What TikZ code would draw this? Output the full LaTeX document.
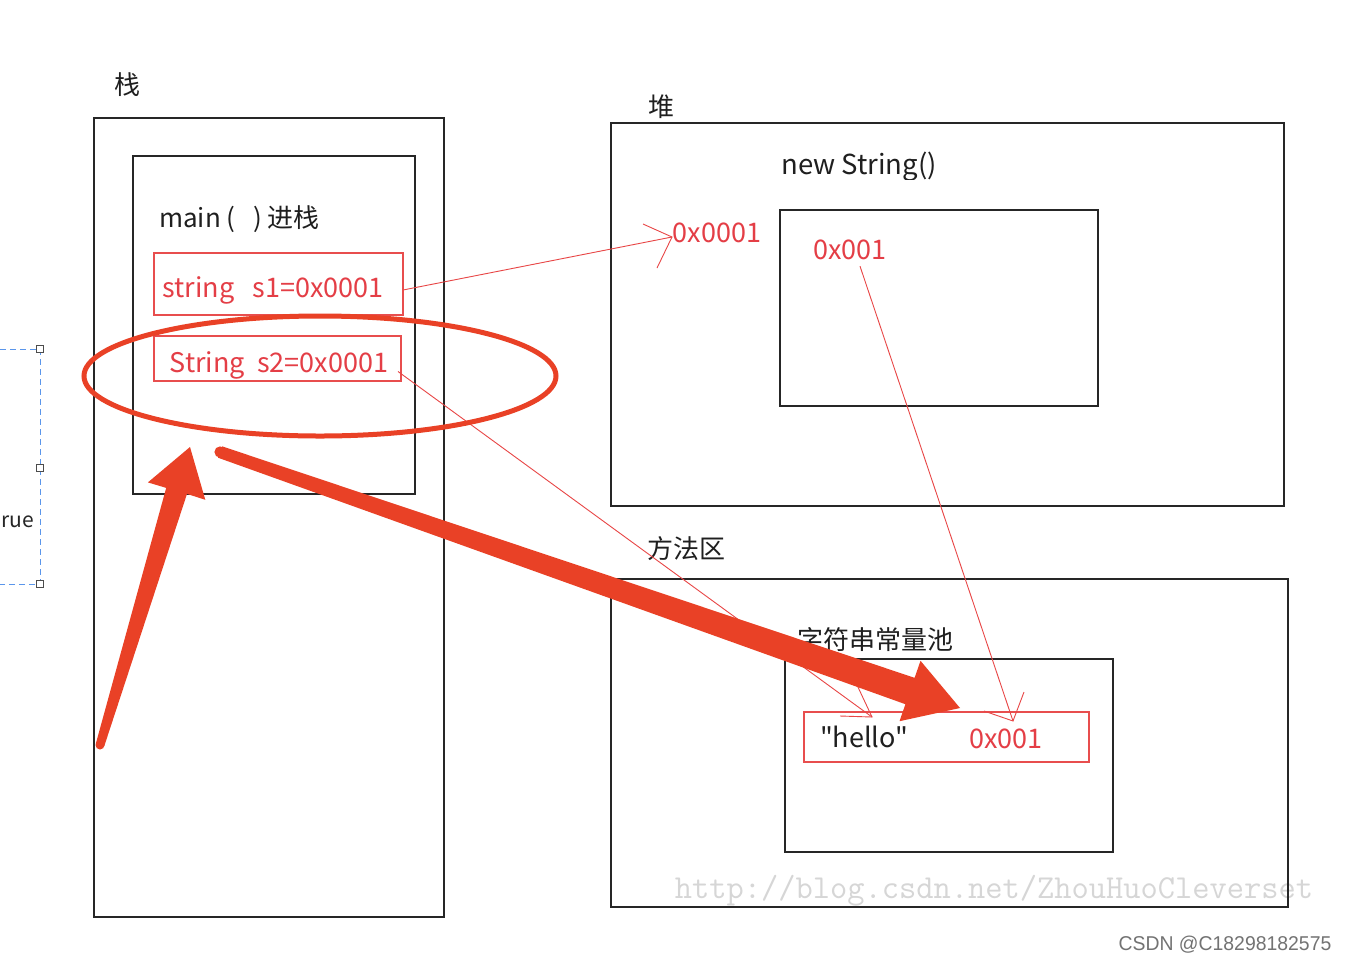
\documentclass[tikz,border=0pt]{standalone}
\usepackage{fontspec}
\setmainfont{Noto Sans CJK SC}
\newfontfamily\nomap{Noto Sans CJK SC}
\newfontfamily\csdnfont{Liberation Sans}
\usetikzlibrary{calc}
\definecolor{boxred}{RGB}{232,78,78}
\definecolor{txtred}{RGB}{228,62,70}
\definecolor{linered}{RGB}{232,70,70}
\definecolor{markred}{RGB}{233,65,38}
\definecolor{selblue}{RGB}{90,150,235}
\begin{document}
\begin{tikzpicture}[x=1pt,y=-1pt,
  blk/.style={draw=black!85, line width=1.4pt, inner sep=0pt, outer sep=0pt},
  rbox/.style={draw=boxred, line width=1.2pt, inner sep=0pt, outer sep=0pt},
  lbl/.style={font=\fontsize{26}{30}\selectfont, text=black!88, inner sep=0pt},
  rlbl/.style={font=\fontsize{27}{32}\selectfont, text=txtred, inner sep=0pt},
  thinred/.style={draw=linered, line width=0.9pt},
  bigarrow/.style={fill=markred, draw=none},
  handle/.style={draw=black!70, fill=white, line width=0.8pt, minimum size=7pt, inner sep=0pt}]
\useasboundingbox (0,0) rectangle (1348,962);
\fill[white] (0,0) rectangle (1348,962);

% watermark
\node[font=\ttfamily\fontsize{33.5}{38}\selectfont, text=black!16, inner sep=0pt] (wm) at (994,891) {http://blog.csdn.net/ZhouHuoCleverset};

% stack
\node[blk, minimum width=350pt, minimum height=799pt] (stack) at (269,517.5) {};
\node[blk, minimum width=282pt, minimum height=338pt] (frame) at (274,325) {};
\node[lbl] (stacklbl) at (127,85) {栈};
\node[lbl, anchor=west] (mainlbl) at (159,219) {main (\ \ \ ) 进栈};
\node[rbox, minimum width=249pt, minimum height=62pt] (s1) at (278.5,284) {};
\node[rlbl] (s1t) at (273,290) {string\ \ \ s1=0x0001};
\node[rbox, minimum width=247pt, minimum height=45pt] (s2) at (277.5,358.5) {};
\begin{scope}
\clip (150,330) rectangle (405,381);
\node[rlbl] (s2t) at (279,365) {String\ \ s2=0x0001};
\end{scope}

% heap
\node[blk, minimum width=673pt, minimum height=383pt] (heap) at (947.5,314.5) {};
\node[lbl] (heaplbl) at (661,107) {堆};
\begin{scope}
\clip (770,140) rectangle (960,179);
\node[lbl, font=\fontsize{27.5}{32}\selectfont] (newstr) at (859,167) {new String()};
\end{scope}
\node[blk, minimum width=318pt, minimum height=196pt] (obj) at (939,308) {};
\node[rlbl] (a1) at (717,233) {0x0001};
\node[rlbl] (a2) at (850,250) {0x001};

% method area
\node[blk, minimum width=677pt, minimum height=328pt] (method) at (949.5,743) {};
\node[lbl] (methodlbl) at (686,549) {方法区};
\node[lbl] (poollbl) at (875,640) {字符串常量池};
\node[blk, minimum width=328pt, minimum height=193pt] (pool) at (949,755.5) {};
\node[rbox, minimum width=285pt, minimum height=50pt] (hello) at (946.5,737) {};
\node[lbl, font=\nomap\fontsize{27}{32}\selectfont] (hellot) at (864,737) {"hello"};
\node[rlbl] (a3) at (1006,739) {0x001};

% selection box at left
\coordinate (sa) at (0,349);
\coordinate (sb) at (40,349);
\coordinate (sc) at (40,584);
\coordinate (sd) at (0,584);
\draw[selblue, line width=1pt, dash pattern=on 6pt off 4pt] (sa) -- (sb) -- (sc) -- (sd);
\node[handle] (h1) at (sb) {};
\node[handle] (h2) at (40,468) {};
\node[handle] (h3) at (sc) {};
\node[font=\fontsize{21}{25}\selectfont, text=black!85, inner sep=0pt, anchor=west] (rue) at (1.5,522) {rue};

% thin connectors
\coordinate (t1) at (672,237);
\draw[thinred] ($(s1.east)+(0,6)$) -- (t1);
\draw[thinred] (643,224) -- (t1) -- (657,268);
\coordinate (t2) at (872,717);
\draw[thinred] ($(s2.east)+(-3,13)$) -- (t2);
\draw[thinred] (857,685) -- (t2) -- (840,716);
\coordinate (t3) at (1013,721);
\draw[thinred] ($(a2.south)+(10,6)$) -- (t3);
\draw[thinred] (1024,692) -- (t3) -- (984,711);

% red marks
\draw[markred, line width=5pt] (320,376) ellipse [x radius=236, y radius=60];
\fill[bigarrow] (104.2,746.3) -- (187.0,493.9) -- (205.3,499.8) -- (190,447) -- (147.9,482.4) -- (166.2,487.9) -- (95.8,743.7) -- cycle;
\fill[bigarrow] (100,745) circle (4.5);
\fill[bigarrow] (222,446.3) -- (914.6,677.8) -- (920.5,660.8) -- (960,708) -- (899.5,721.2) -- (905.4,704.2) -- (218,457.7) -- cycle;
\fill[bigarrow] (220,452) circle (5.6);

% csdn mark
\node[font=\csdnfont\fontsize{20}{24}\selectfont, text=black!55, inner sep=0pt, xscale=0.97] (csdn) at (1225,945) {CSDN @C18298182575};
\end{tikzpicture}
\end{document}
